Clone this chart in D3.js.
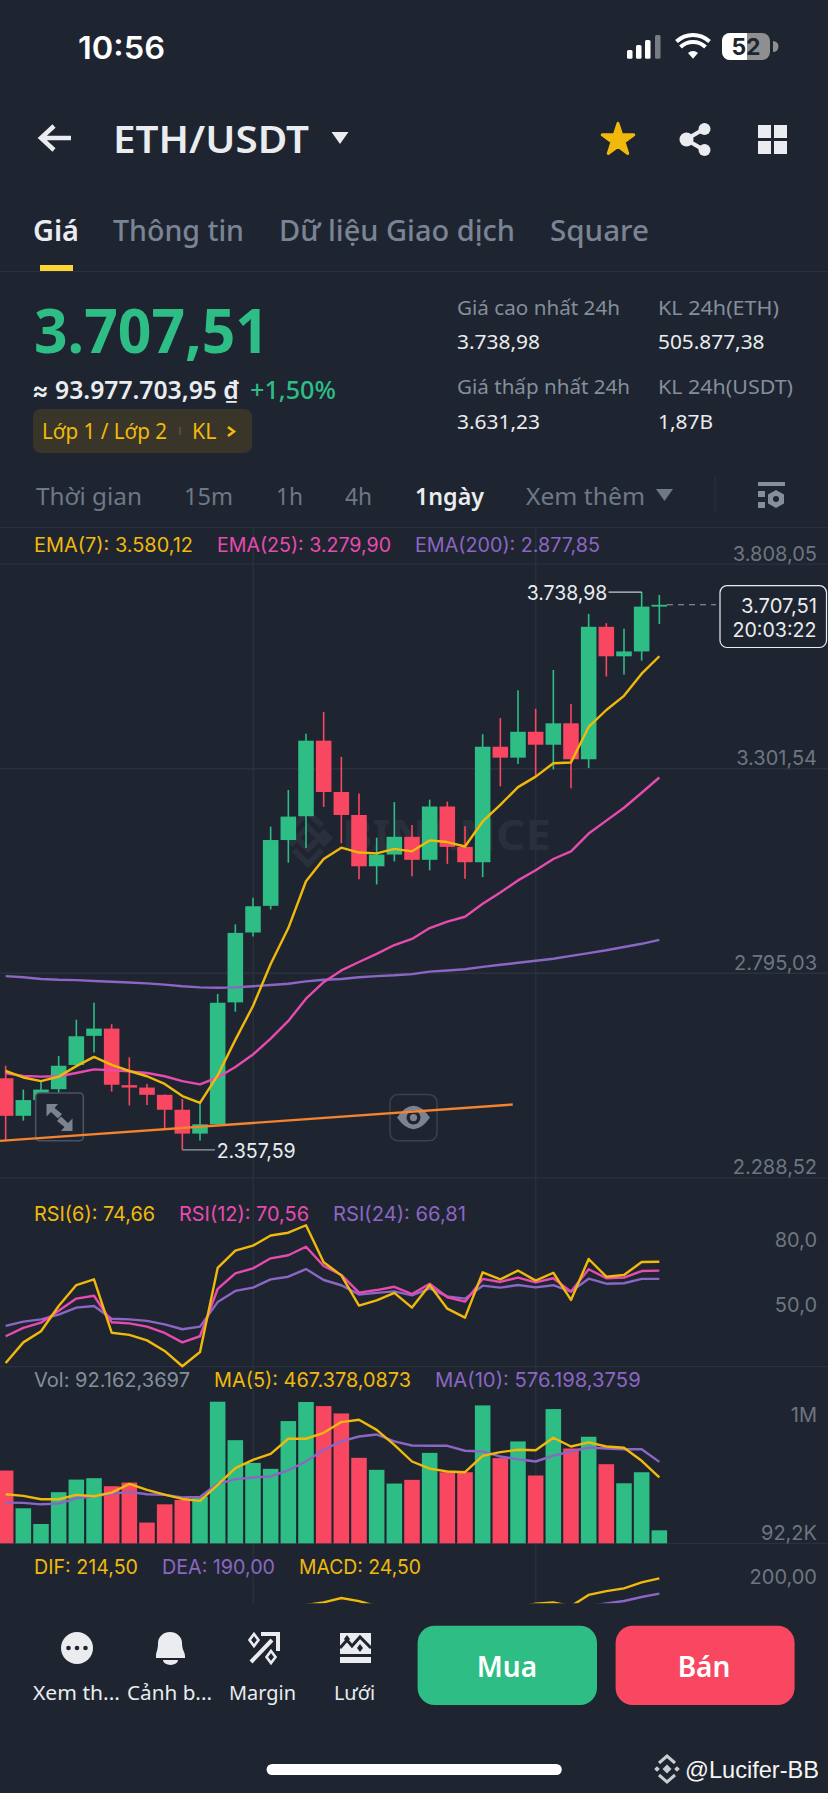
<!DOCTYPE html>
<html><head><meta charset="utf-8">
<script src="https://cdn.jsdelivr.net/npm/d3@7/dist/d3.min.js"></script>
<style>html,body{margin:0;padding:0;background:#1e2530;overflow:hidden}svg{display:block}</style>
</head><body><svg id="c" width="828" height="1793" viewBox="0 0 828 1793"></svg>
<script>
// ---- chart values ----
const openP  = [2535,2442,2481,2508,2568,2640,2658,2518,2512,2494,2457,2398,2421,2723,2896,2962,3125,3184,3371,3244,3187,3060,3089,3133,3076,3208,3108,3070,3356,3329,3393,3361,3414,3325,3653,3580,3592,3703];
const highP  = [2566,2507,2529,2590,2680,2722,2669,2587,2521,2495,2484,2474,2744,2916,2982,3158,3249,3388,3442,3331,3240,3131,3219,3162,3225,3220,3159,3387,3427,3496,3450,3546,3462,3685,3662,3648,3738.98,3732];
const lowP   = [2380,2430,2474,2498,2566,2599,2502,2468,2469,2409,2357.59,2381,2420,2700,2886,2953,3069,3105,3207,3117,3028,3015,3072,3035,3050,3066,3029,3033,3258,3313,3284,3300,3253,3303,3530,3535,3569,3660];
const closeP = [2442,2481,2507,2566,2639,2658,2519,2512,2494,2457,2398,2421,2722,2895,2961,3125,3183,3371,3244,3187,3060,3089,3133,3076,3208,3108,3070,3356,3329,3393,3361,3414,3325,3653,3580,3592,3703,3707.51];
const ema7   = [2553,2537,2528,2539,2565,2588,2568,2553,2540,2521,2491,2474,2542,2630,2714,2818,2907,3023,3078,3106,3094,3092,3103,3097,3124,3120,3109,3171,3212,3256,3282,3315,3317,3405,3447,3482,3537,3580.12];
const ema25  = [2547,2541,2539,2540,2548,2557,2555,2552,2548,2540,2528,2520,2537,2563,2594,2633,2677,2732,2773,2802,2823,2843,2865,2880,2907,2923,2935,2967,2995,3025,3050,3078,3097,3141,3173,3205,3242,3279.90];
const ema200 = [2788,2785,2781,2779,2778,2776,2774,2772,2770,2767,2763,2760,2759,2760,2763,2766,2769,2775,2779,2781,2785,2788,2790,2793,2799,2802,2805,2811,2816,2821,2826,2831,2838,2845,2852,2860,2868,2877.85];
const trendIdx = [-0.32,28.7];
const trendP   = [2380,2470];
const rsi6  = [28.4,37.8,42.9,54.4,64.0,66.6,42.2,41.2,38.7,33.9,26.9,33.4,71.8,79.7,82.0,86.6,87.9,91.3,74.4,68.4,54.6,57.0,60.4,53.7,64.0,53.2,49.1,69.8,66.6,70.6,66.0,69.6,57.2,75.9,67.8,68.6,74.5,74.66];
const rsi12 = [40.6,44.4,46.8,52.3,57.8,59.1,47.0,46.5,45.0,42.1,37.8,40.6,62.2,69.3,71.6,76.2,77.6,81.5,72.7,68.6,60.5,61.7,63.2,59.9,64.6,58.4,56.4,66.8,65.4,67.4,65.2,67.1,61.0,71.2,67.1,67.4,70.4,70.56];
const rsi24 = [45.3,47.3,48.3,50.5,53.7,54.4,48.6,48.3,47.6,46.0,43.8,45.0,56.2,61.3,62.8,66.6,67.8,71.3,66.3,63.9,59.7,60.4,61.1,59.3,62.5,58.8,57.8,63.7,62.8,64.0,62.9,63.9,61.0,66.9,64.6,64.8,66.8,66.81];
const volK  = [515,248,137,362,451,461,404,430,147,276,307,331,1002,730,569,527,865,1000,971,919,605,520,423,449,640,503,503,976,603,721,480,950,671,754,560,425,503,92.16];
const ma5K  = [347,336,312,312,343,333,359,421,378,345,314,300,414,532,591,633,740,740,782,858,874,803,697,579,529,508,503,619,645,662,659,747,685,714,685,676,584,467.378];
const ma10K = [288,286,276,281,319,333,350,364,347,343,324,328,421,454,466,473,517,579,662,721,756,770,721,692,690,690,655,650,614,595,579,621,650,678,671,666,666,576.198];
const difStart = 17, difV = [172,176,183,178,170,165,160,158,152,148,155,160,168,174,176,170,188,194,198.5,208,214.5];
const deaStart = 32, deaV = [163,170.3,174.5,178.3,184.7,190];
const priceTicks = [3808.05,3301.54,2795.03,2288.52];
const rsiTicks = [80,50];
const volTicks = [1000,92.2];
const macdTicks = [200];
const tabs = ["Giá","Thông tin","Dữ liệu Giao dịch","Square"];
const frames = ["Thời gian","15m","1h","4h","1ngày","Xem thêm"];

// ---- setup ----
const BG="#1e2530",GRID="#2b313c",GREEN="#2ebd85",RED="#fa4761",YEL="#f0b90b",PINK="#e84bb0",PUR="#8c66c4",GREY="#848e9c",AXC="#6e7582",WHITE="#eaecef";
const LW=2.4;
const SANS="'Noto Sans','Inter',sans-serif",NUM="'Inter','Noto Sans',sans-serif";
const svg=d3.select("#c");
svg.append("rect").attr("width",828).attr("height",1793).attr("fill",BG);
const loc=d3.formatLocale({decimal:",",thousands:".",grouping:[3],currency:["",""]});
const fP=loc.format(",.2f"),f1=loc.format(".1f"),f2=loc.format(".2f");
function T(s,x,y,size,fill,w,o={}){
  const t=svg.append("text").text(s).attr("x",x).attr("y",y).attr("font-size",size).attr("fill",fill)
   .attr("font-family",o.f||SANS).attr("font-weight",o.b||400).attr("text-anchor",o.a||"start");
  if(w) t.attr("textLength",w).attr("lengthAdjust","spacingAndGlyphs");
  return t;
}
function P(d,fill,o={}){return svg.append("path").attr("d",d).attr("fill",fill).attr("stroke",o.s||"none").attr("stroke-width",o.w||0).attr("stroke-linecap",o.c||"butt").attr("stroke-linejoin",o.j||"miter");}
function R(x,y,w,h,fill,r=0){return svg.append("rect").attr("x",x).attr("y",y).attr("width",w).attr("height",h).attr("fill",fill).attr("rx",r);}

// ---- scales ----
const idx=d3.range(openP.length);
const band=d3.scaleBand().domain(idx).range([-3.167,668.167]).paddingInner(0.12).paddingOuter(0.06);
const X=i=>band(i)+band.bandwidth()/2;
const xLin=d3.scaleLinear().domain([0,37]).range([X(0),X(37)]);
const yP=d3.scaleLinear().domain([2288.52,3808.05]).range([1177.8,564.2]);
const yR=d3.scaleLinear().domain([50,80]).range([1315.67,1250]);
const yV=d3.scaleLinear().domain([0,1000]).range([1543.33,1402]);
const yM=d3.scaleLinear().domain([190,214.5]).range([1180+1241/3,1180+1195/3]);

// ---- status bar ----
T("10:56",78,59,31,"#fff",87,{f:NUM,b:600});
[[627,50,1],[636,45,1],[645,40,1],[655,35,.4]].forEach(b=>R(b[0],b[1],5.5,58.7-b[1],"#fff",1.5).attr("opacity",b[2]));
P("M693 58.7L688 53A7.5 7.5 0 0 1 698 53Z","#fff");
P("M680.5 47A18 18 0 0 1 705.5 47","none",{s:"#fff",w:4});
P("M676.5 41.5A24 24 0 0 1 709.5 41.5","none",{s:"#fff",w:4});
R(722,33,48,27,"#8f8f8f",8);
svg.append("clipPath").attr("id","bat").append("rect").attr("x",722).attr("y",33).attr("width",25).attr("height",27);
R(722,33,48,27,"#fff",8).attr("clip-path","url(#bat)");
T("52",746,55,23,"#1e2530",null,{f:NUM,b:700,a:"middle"});
P("M773 41A5 5 0 0 1 773 52Z","#8f8f8f");

// ---- title row ----
P("M71 138H42M54 126L41 138L54 150","none",{s:WHITE,w:4.5});
T("ETH/USDT",113,153,37,WHITE,196,{b:600});
P("M331.5 132H348.5L340 144Z",WHITE);
P(d3.symbol().type(d3.symbolStar).size(310)(),YEL,{s:YEL,w:3,j:"round"}).attr("transform","translate(618,140)");
P("M704 129L686 139.5L704 150","none",{s:WHITE,w:4});
[[704.5,129,6],[686.5,139.5,7],[704.5,150,6]].forEach(c=>svg.append("circle").attr("cx",c[0]).attr("cy",c[1]).attr("r",c[2]).attr("fill",WHITE));
[[758,125],[774,125],[758,141],[774,141]].forEach(c=>R(c[0],c[1],13,13,WHITE));

// ---- tabs ----
const tabX=[[33,46],[113,131],[279,236],[550,99]];
tabs.forEach((t,i)=>T(t,tabX[i][0],241,29,i?"#7b8494":WHITE,tabX[i][1],{b:i?500:600}));
R(40,265,33,6,"#fcd535");
R(0,271,828,1.2,GRID);

// ---- price block ----
T(fP(closeP[37]),34,353,61,GREEN,235,{b:700,f:SANS});
T("≈ 93.977.703,95 ₫",32,399,25,WHITE,207,{b:600});
T("+1,50%",250,399,25,GREEN,86,{b:500});
R(33,409,219,44,"#3a3529",8);
T("Lớp 1 / Lớp 2",42,439,21,YEL,125);
R(179.5,427,1.2,8,"#6b5f2a");
T("KL",192,439,21,YEL,24.5);
P("M228 427L234 431.5L228 436","none",{s:YEL,w:2.6});
T("Giá cao nhất 24h",457,315,20,GREY,163);
T("KL 24h(ETH)",658,315,20,GREY,121);
T(fP(highP[36]),457,349,20,WHITE,83);
T("505.877,38",658,349,20,WHITE,106.5);
T("Giá thấp nhất 24h",457,394,20,GREY,173);
T("KL 24h(USDT)",658,394,20,GREY,135);
T("3.631,23",457,429,20,WHITE,83);
T("1,87B",658,429,20,WHITE,55);

// ---- time frames ----
const frameX=[[36,106],[184,49],[276,27],[345,27],[415,69],[526,119]];
frames.forEach((t,i)=>T(t,frameX[i][0],505,23,i==4?WHITE:"#6f7886",frameX[i][1],{b:i==4?600:400}));
P("M656 489H673L664.5 501Z","#6f7886");
R(714.5,477,1,35,GRID);
R(758,482,27,4,"#848e9c");R(758,491,7,6,"#848e9c");R(758,502,7,6,"#848e9c");
P("M776 490L784 494.5V503.5L776 508L768 503.5V494.5Z","#848e9c");
svg.append("circle").attr("cx",776).attr("cy",499).attr("r",3).attr("fill",BG);

// ---- grid ----
const gridYs=[527.6,yP(3808.05),yP(3301.54),yP(2795.03),yP(2288.52),1366.7,1543.3];
svg.append("g").selectAll("line").data(gridYs).join("line").attr("x1",0).attr("x2",828).attr("y1",d=>d).attr("y2",d=>d).attr("stroke",GRID).attr("stroke-width",1.3);
svg.append("g").selectAll("line").data([253.3,535.7]).join("line").attr("x1",d=>d).attr("x2",d=>d).attr("y1",527.6).attr("y2",1603).attr("stroke",GRID).attr("stroke-width",1.3);

// ---- watermark ----
const wm="#2a303b";
[[308,838,11],[292,838,5],[324,838,5]].forEach(c=>P(`M${c[0]} ${c[1]-c[2]}L${c[0]+c[2]} ${c[1]}L${c[0]} ${c[1]+c[2]}L${c[0]-c[2]} ${c[1]}Z`,"none",{s:wm,w:6}));
P("M294 826L308 812L322 826","none",{s:wm,w:6});P("M294 850L308 864L322 850","none",{s:wm,w:6});
T("BINANCE",342,850,42,wm,209,{b:700});

// ---- candles ----
const cg=svg.append("g");
const col=i=>closeP[i]>=openP[i]?GREEN:RED;
cg.selectAll("line").data(idx).join("line").attr("x1",X).attr("x2",X).attr("y1",i=>yP(highP[i])).attr("y2",i=>yP(lowP[i])).attr("stroke",col).attr("stroke-width",1.6);
cg.selectAll("rect").data(idx).join("rect").attr("x",i=>band(i)).attr("width",band.bandwidth())
 .attr("y",i=>yP(Math.max(openP[i],closeP[i]))).attr("height",i=>Math.max(1.6,Math.abs(yP(openP[i])-yP(closeP[i])))).attr("fill",col);

// ---- floating icons ----
R(35.7,1093,47.6,47.8,BG,4).attr("stroke","#4b5261").attr("stroke-width",1.6);
P("M46.5 1104H58L54.5 1108L62 1114L58 1118.5L51 1112L46.5 1116.5Z","#7b8390");
P("M72.5 1131H61L64.5 1127L57 1121L61 1116.5L68 1123L72.5 1118.5Z","#7b8390");
R(390,1094.5,47,46.3,BG,8).attr("stroke","#3a404c").attr("stroke-width",1.6);
P("M397 1117.6Q413.5 1094 430 1117.6Q413.5 1141 397 1117.6Z","#7b8390");
svg.append("circle").attr("cx",413.5).attr("cy",1117.6).attr("r",7).attr("fill",BG);
svg.append("circle").attr("cx",413.5).attr("cy",1117.6).attr("r",3.6).attr("fill","#7b8390");

// ---- EMA + trend ----
const lineP=a=>d3.line().x((d,i)=>xLin(i)).y(d=>yP(d))(a);
[[ema200,PUR],[ema25,PINK],[ema7,YEL]].forEach(s=>P(lineP(s[0]),"none",{s:s[1],w:LW,j:"round"}));
P(d3.line().x((d,i)=>xLin(trendIdx[i])).y(d=>yP(d))(trendP),"none",{s:"#f5832f",w:LW});

// ---- extremes + last price ----
P(`M${xLin(10)} ${yP(lowP[10])}H215`,"none",{s:"#9aa0aa",w:1.2});
T(fP(lowP[10]),216.7,1157.6,20,WHITE,79,{f:NUM});
P(`M608.5 ${yP(highP[36])}H${xLin(36)}`,"none",{s:"#c8ccd2",w:1.2});
T(fP(highP[36]),526.7,600,20,WHITE,80.6,{f:NUM});
svg.append("line").attr("x1",667).attr("x2",716).attr("y1",yP(closeP[37])).attr("y2",yP(closeP[37])).attr("stroke","#9aa0aa").attr("stroke-width",1.1).attr("stroke-dasharray","6 5");
R(720,585.7,106.5,61.8,BG,7).attr("stroke",WHITE).attr("stroke-width",1.2);
T(fP(closeP[37]),741,612.6,20,WHITE,76,{f:NUM});
T("20:03:22",732.5,637,20,WHITE,84,{f:NUM});

// ---- legends ----
T("EMA(7): 3.580,12",34,552,19.5,YEL,159,{f:NUM});
T("EMA(25): 3.279,90",217,552,19.5,PINK,174,{f:NUM});
T("EMA(200): 2.877,85",415,552,19.5,PUR,185,{f:NUM});
T("RSI(6): 74,66",34,1220.7,20,YEL,121,{f:NUM});
T("RSI(12): 70,56",179,1220.7,20,PINK,130,{f:NUM});
T("RSI(24): 66,81",333,1220.7,20,PUR,133,{f:NUM});
T("Vol: 92.162,3697",34,1386.7,20,GREY,156,{f:NUM});
T("MA(5): 467.378,0873",214,1386.7,20,YEL,197,{f:NUM});
T("MA(10): 576.198,3759",435,1386.7,20,PUR,205.7,{f:NUM});
T("DIF: 214,50",34,1574,20,YEL,104,{f:NUM});
T("DEA: 190,00",162,1574,20,PUR,113,{f:NUM});
T("MACD: 24,50",299,1574,20,YEL,122,{f:NUM});

// ---- axes ----
function axis(scale,vals,fmt,dy){
  const g=svg.append("g").attr("transform","translate(817,0)")
    .call(d3.axisLeft(scale).tickValues(vals).tickFormat(fmt).tickSize(0).tickPadding(0));
  g.select(".domain").remove();
  g.selectAll("text").attr("dy",dy).attr("fill",AXC).attr("font-size",20).attr("font-family",NUM);
}
axis(yP,priceTicks,fP,-4);
axis(yR,rsiTicks,f1,-4);
axis(yV,volTicks,d=>d>=1000?"1M":f1(d)+"K",d=>d>=1000?19.7:9);
axis(yM,macdTicks,f2,-4);

// ---- RSI ----
const lineR=a=>d3.line().x((d,i)=>xLin(i)).y(d=>yR(d))(a);
[[rsi24,PUR],[rsi12,PINK],[rsi6,YEL]].forEach(s=>P(lineR(s[0]),"none",{s:s[1],w:LW,j:"round"}));

// ---- volume ----
svg.append("g").selectAll("rect").data(idx).join("rect").attr("x",i=>band(i)).attr("width",band.bandwidth())
 .attr("y",i=>yV(volK[i])).attr("height",i=>yV(0)-yV(volK[i])).attr("fill",col);
const lineV=a=>d3.line().x((d,i)=>xLin(i)).y(d=>yV(d))(a);
[[ma10K,PUR],[ma5K,YEL]].forEach(s=>P(lineV(s[0]),"none",{s:s[1],w:LW,j:"round"}));

// ---- MACD (cut off by the bottom bar) ----
svg.append("clipPath").attr("id","mc").append("rect").attr("x",0).attr("y",1544).attr("width",828).attr("height",59.3);
[[difV,difStart,YEL],[deaV,deaStart,PUR]].forEach(s=>
  P(d3.line().x((d,i)=>xLin(i+s[1])).y(d=>yM(d))(s[0]),"none",{s:s[2],w:LW}).attr("clip-path","url(#mc)"));

// ---- bottom bar ----
svg.append("ellipse").attr("cx",77).attr("cy",1648).attr("rx",16).attr("ry",16).attr("fill",WHITE);
[68.5,77,85.5].forEach(x=>svg.append("circle").attr("cx",x).attr("cy",1648).attr("r",2.3).attr("fill",BG));
P("M156 1656C156 1652 158 1650 158 1643A12 11 0 0 1 182 1643C182 1650 185 1652 185 1656V1658H156Z",WHITE);
P("M163 1660H178A7.5 5 0 0 1 163 1660Z",WHITE);
P("M251 1662L272 1640","none",{s:WHITE,w:4});
P("M261 1634H278V1651","none",{s:WHITE,w:4});
[[254,1640],[271,1657]].forEach(c=>P(`M${c[0]} ${c[1]-6}L${c[0]+4.5} ${c[1]}L${c[0]} ${c[1]+6}L${c[0]-4.5} ${c[1]}Z`,"none",{s:WHITE,w:2.6}));
P("M340 1633H371V1654H340Z",WHITE);
P("M340 1648L347 1640L352 1646L360 1637L371 1648","none",{s:BG,w:3});
[[347,1639],[360,1648]].forEach(c=>P(`M${c[0]} ${c[1]-4}L${c[0]+3} ${c[1]}L${c[0]} ${c[1]+4}L${c[0]-3} ${c[1]}Z`,BG));
R(340,1657,31,6,WHITE);
[["Xem th...",33,87],["Cảnh b...",127,85],["Margin",229,67],["Lưới",334,41]].forEach(a=>T(a[0],a[1],1700,20,WHITE,a[2]));
R(417.6,1625.7,179.4,79.3,GREEN,17);
R(615.6,1625.7,179,79.3,RED,17);
T("Mua",507,1677,28,"#fff",null,{b:600,a:"middle"});
T("Bán",704,1677,28,"#fff",null,{b:600,a:"middle"});
R(266.6,1764,295.2,11,"#fff",5.5);
// small logo + credit
const lg="#c9cdd2";
[[667,1769,4.5],[657,1769,2.8],[677,1769,2.8]].forEach(c=>P(`M${c[0]} ${c[1]-c[2]}L${c[0]+c[2]} ${c[1]}L${c[0]} ${c[1]+c[2]}L${c[0]-c[2]} ${c[1]}Z`,lg));
P("M659 1763L667 1756L675 1763","none",{s:lg,w:3});P("M659 1775L667 1782L675 1775","none",{s:lg,w:3});
T("@Lucifer-BB",685,1778,24,"#f5f5f5",134,{f:"'Liberation Sans',sans-serif"});
</script></body></html>
